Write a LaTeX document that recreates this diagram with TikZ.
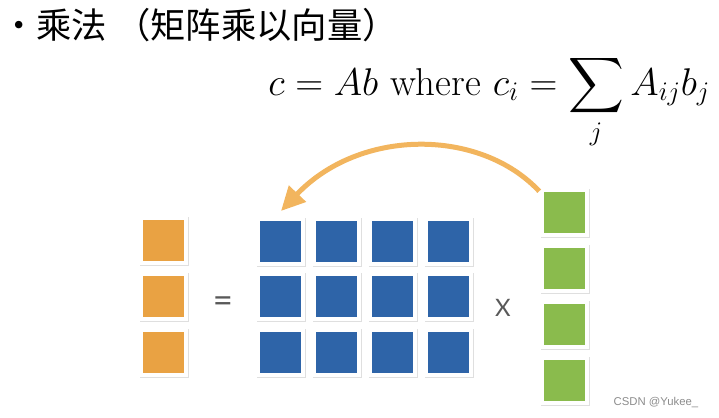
\documentclass[tikz,border=0pt]{standalone}
\usepackage{fontspec}
\usepackage{amsmath}
\newfontfamily\cjk{Noto Sans CJK SC}
\newfontfamily\thinsans{Lato}
\newfontfamily\wm{Liberation Sans}
\usetikzlibrary{arrows.meta,shadows}
\definecolor{cellorange}{HTML}{E9A243}
\definecolor{cellblue}{HTML}{2E64A8}
\definecolor{cellgreen}{HTML}{8ABB4D}
\definecolor{arroworange}{HTML}{F2B55E}
\begin{document}
\begin{tikzpicture}[x=.75pt,y=-.75pt,
   frame/.style={fill=white, minimum size=36.75pt, inner sep=0pt,
     drop shadow={shadow xshift=.8pt, shadow yshift=-1.2pt, opacity=.25}},
   cell/.style={fill=#1, minimum size=30.75pt, inner sep=0pt},
   sign/.style={text=black!65, font=\thinsans\fontsize{18}{20}\selectfont}]
   \useasboundingbox (0,0) rectangle (719,418);
   % heading and formula
   \node[anchor=west, inner sep=0pt, font=\cjk\fontsize{26.5}{30}\selectfont] (title) at (1,25) {•乘法 （矩阵乘以向量）};
   \node[anchor=base west, inner sep=0pt, font=\fontsize{25}{30}\selectfont] (formula) at (268,95)
      {\scalebox{1.165}{$\displaystyle c = Ab \text{ where } c_i = \sum_j A_{ij} b_j$}};
   % result vector
   \foreach \i/\y in {1/240,2/296,3/352}
    {\node[frame] (of\i) at (163,\y) {};
     \node[cell=cellorange] (o\i) at (163,\y) {};}
   % matrix
   \foreach \r/\y in {1/241,2/296,3/352}
    \foreach \c/\x in {1/280,2/336,3/392,4/448}
     {\node[frame] (bf\r\c) at (\x,\y) {};
      \node[cell=cellblue] (b\r\c) at (\x,\y) {};}
   % input vector
   \foreach \i/\y in {1/212,2/268,3/324,4/380}
    {\node[frame] (gf\i) at (564,\y) {};
     \node[cell=cellgreen] (g\i) at (564,\y) {};}
   \node[sign, font=\thinsans\fontsize{26}{28}\selectfont] (eq) at (223,305) {=};
   \node[sign] (times) at (503,308) {X};
   % arrow
   \coordinate (tip) at (281,211);
   \draw[arroworange, line width=3.75pt, -{Triangle[length=18pt,width=17pt]}]
      ([yshift=-3pt]gf1.north west) .. controls (480,128) and (360,128) .. (tip);
   \node[anchor=east, text=black!45, font=\wm\fontsize{8.5}{10}\selectfont] (mark) at (703,403) {CSDN @Yukee\_};
\end{tikzpicture}
\end{document}
